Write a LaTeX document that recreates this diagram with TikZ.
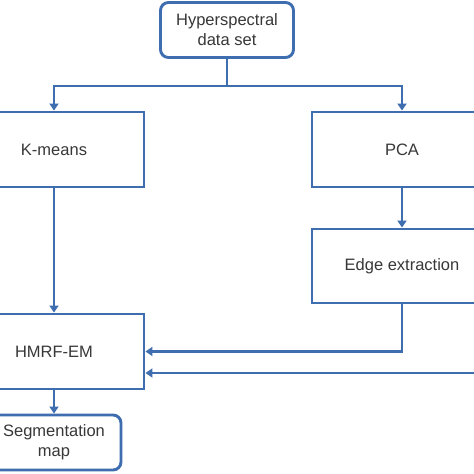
\documentclass[tikz,border=0pt]{standalone}
\usepackage{fontspec}
\setmainfont{Liberation Sans}
\usetikzlibrary{arrows.meta}
\definecolor{bl}{HTML}{3E6DB0}
\definecolor{tx}{HTML}{383838}
\begin{document}
\begin{tikzpicture}[x=1pt,y=1pt,
  box/.style={draw=bl,line width=2.9pt,fill=white,text=tx,font=\fontsize{16.5}{20}\selectfont,align=center,inner sep=0pt},
  rbox/.style={box,rounded corners=8pt},
  conn/.style={draw=bl,line width=2.9pt,-{Triangle[width=9pt,length=7pt]}}]
\useasboundingbox (0,0) rectangle (474,-474);
\node[rbox,minimum width=133pt,minimum height=55pt] (top) at (227,-30) {Hyperspectral\\data set};
\node[box,minimum width=180pt,minimum height=75pt] (km) at (54,-149.5) {K-means};
\node[box,minimum width=180pt,minimum height=75pt] (pca) at (402,-149.5) {PCA};
\node[box,minimum width=180pt,minimum height=74pt] (edge) at (402,-266) {Edge extraction};
\node[box,minimum width=180pt,minimum height=75pt] (hmrf) at (54,-351.5) {HMRF-EM};
\node[rbox,minimum width=134pt,minimum height=55pt] (seg) at (54,-442.5) {Segmentation\\map};
\coordinate (r) at (480,-373);
\draw[conn] (top.south) -- ++(0,-27) -| (km.north);
\draw[conn] (top.south) -- ++(0,-27) -| (pca.north);
\draw[conn] (km.south) -- (hmrf.north);
\draw[conn] (pca.south) -- (edge.north);
\draw[conn] (edge.south) |- (hmrf.east);
\draw[conn] (r) -- (r -| hmrf.east);
\draw[conn] (hmrf.south) -- (seg.north);
\end{tikzpicture}
\end{document}
